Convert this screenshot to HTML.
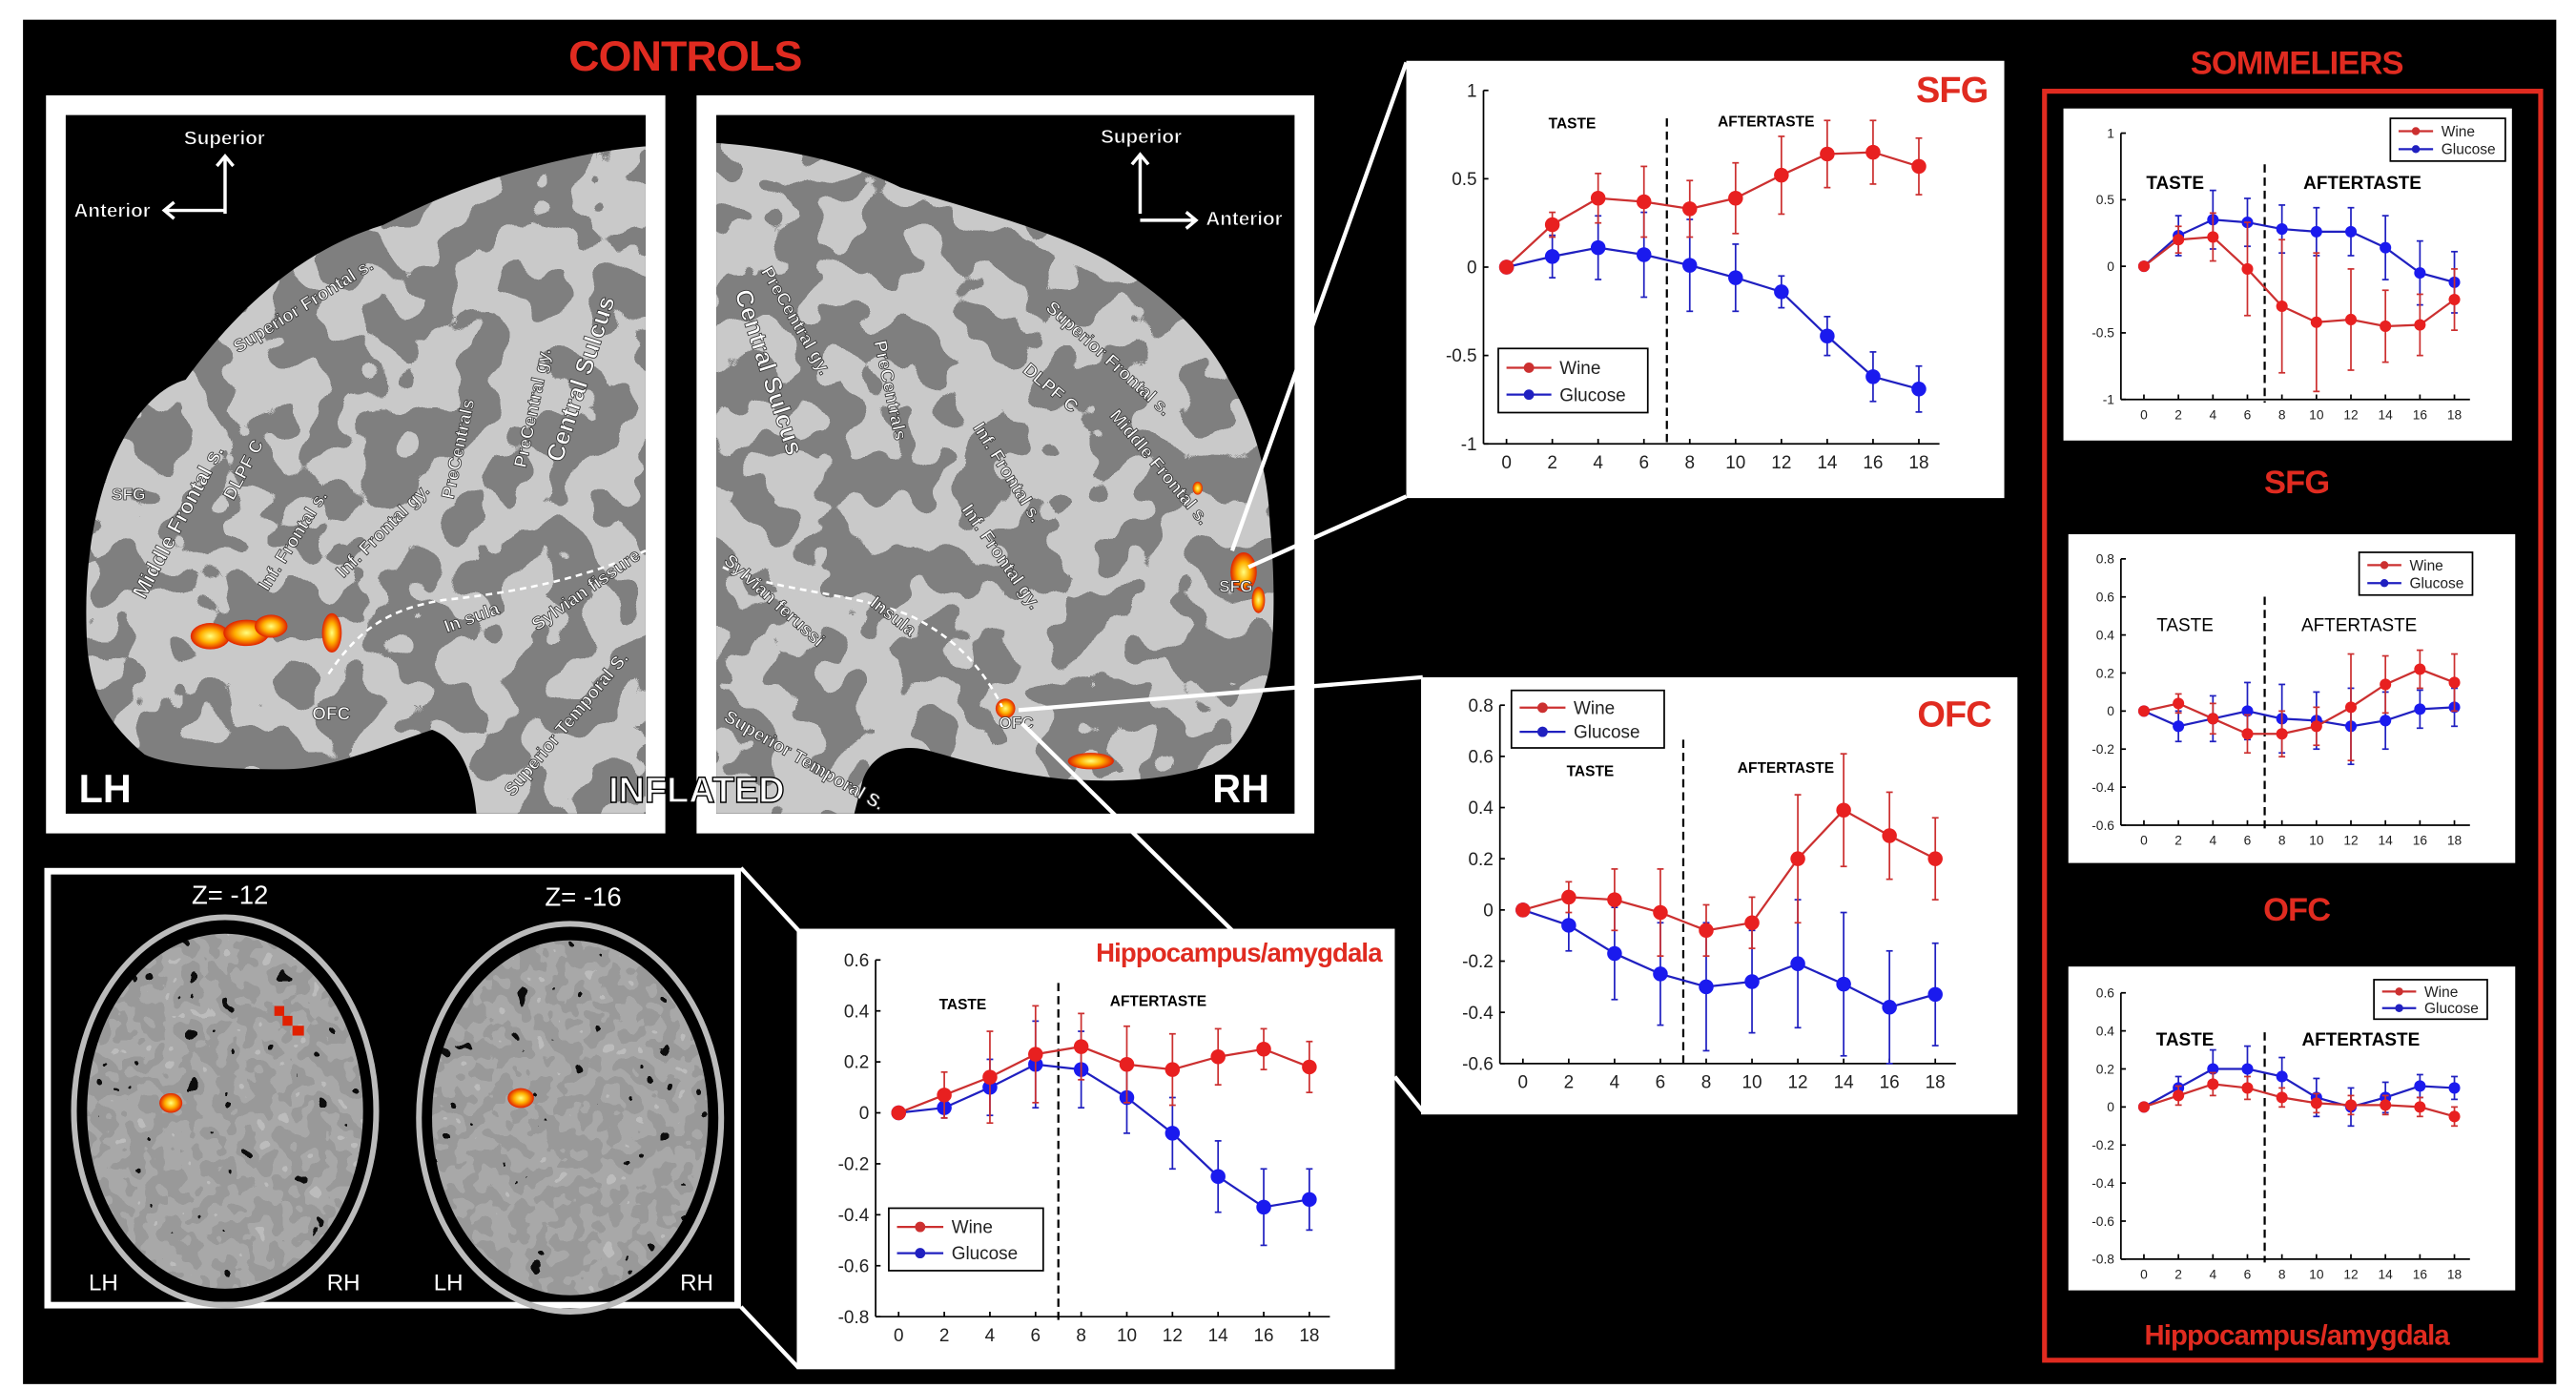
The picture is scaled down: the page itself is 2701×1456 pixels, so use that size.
<!DOCTYPE html>
<html><head><meta charset="utf-8">
<style>
html,body{margin:0;padding:0;background:#fff;}
svg{display:block;}
text{font-family:"Liberation Sans",Arial,sans-serif;}
</style></head>
<body>
<svg id="s" xmlns="http://www.w3.org/2000/svg" width="2701" height="1456" viewBox="0 0 1568 845" preserveAspectRatio="none">
<defs>
 <filter id="tex" x="0" y="0" width="100%" height="100%" color-interpolation-filters="sRGB">
  <feTurbulence type="fractalNoise" baseFrequency="0.036" numOctaves="2" seed="7"/>
  <feColorMatrix type="matrix" values="1 0 0 0 0 1 0 0 0 0 1 0 0 0 0 0 0 0 0 1"/>
  <feComponentTransfer><feFuncR type="discrete" tableValues="0.5 0.79"/><feFuncG type="discrete" tableValues="0.5 0.79"/><feFuncB type="discrete" tableValues="0.5 0.79"/></feComponentTransfer>
 </filter>
 <filter id="tex2" x="0" y="0" width="100%" height="100%" color-interpolation-filters="sRGB">
  <feTurbulence type="fractalNoise" baseFrequency="0.09" numOctaves="2" seed="3"/>
  <feColorMatrix type="matrix" values="1 0 0 0 0 1 0 0 0 0 1 0 0 0 0 0 0 0 0 1"/>
  <feComponentTransfer><feFuncR type="discrete" tableValues="0.05 0.6 0.66 0.74"/><feFuncG type="discrete" tableValues="0.05 0.6 0.66 0.74"/><feFuncB type="discrete" tableValues="0.05 0.6 0.66 0.74"/></feComponentTransfer>
 </filter>
 <radialGradient id="hot"><stop offset="0" stop-color="#ffff80"/><stop offset="0.5" stop-color="#ffb000"/><stop offset="1" stop-color="#e02000"/></radialGradient>
 <clipPath id="cl"><path d="M53,392 C48,300 80,240 113,231 C150,180 190,150 233,137 C270,118 300,108 323,102 C350,95 370,91 393,89 L393,495 L290,495 C288,470 280,450 263,444 C230,455 200,468 173,468 C130,468 100,465 88,459 C65,440 55,420 53,392 Z"/></clipPath>
 <clipPath id="cr"><path d="M436,87 C480,90 520,100 548,114 C600,130 640,140 673,158 C710,180 735,205 748,231 C765,260 772,290 773,319 C776,350 776,380 773,406 C765,440 752,458 738,465 C710,475 680,476 648,474 C610,470 585,462 563,456 C545,452 530,460 525,475 L520,495 L436,495 Z"/></clipPath>
 <clipPath id="m1"><ellipse cx="137" cy="676" rx="84" ry="108"/></clipPath>
 <clipPath id="m2"><ellipse cx="347" cy="680" rx="84" ry="108"/></clipPath>
</defs>
<rect x="0" y="0" width="1568" height="845" fill="#fff"/>
<rect x="14" y="12" width="1542" height="830" fill="#000"/>

<text x="417" y="43" text-anchor="middle" font-size="26" font-weight="bold" fill="#e02b20" letter-spacing="-0.5">CONTROLS</text>
<text x="1398" y="45" text-anchor="middle" font-size="20" font-weight="bold" fill="#e02b20" letter-spacing="-0.5">SOMMELIERS</text>

<rect x="28" y="58" width="377" height="449" fill="#fff"/>
<rect x="40" y="70" width="353" height="425" fill="#000"/>
<rect x="424" y="58" width="376" height="449" fill="#fff"/>
<rect x="436" y="70" width="352" height="425" fill="#000"/>
<g clip-path="url(#cl)"><rect x="40" y="70" width="353" height="425" filter="url(#tex)"/></g>
<g clip-path="url(#cr)"><rect x="436" y="70" width="352" height="425" filter="url(#tex)"/></g>
<ellipse cx="128" cy="387" rx="12" ry="8" fill="url(#hot)"/>
<ellipse cx="150" cy="385" rx="14" ry="8" fill="url(#hot)"/>
<ellipse cx="165" cy="381" rx="10" ry="7" fill="url(#hot)"/>
<ellipse cx="202" cy="385" rx="6" ry="12" fill="url(#hot)"/>
<ellipse cx="757" cy="348" rx="8" ry="12" fill="url(#hot)"/>
<ellipse cx="766" cy="365" rx="4" ry="8" fill="url(#hot)"/>
<ellipse cx="612" cy="431" rx="6" ry="6" fill="url(#hot)"/>
<ellipse cx="664" cy="463" rx="14" ry="5" fill="url(#hot)"/>
<ellipse cx="729" cy="297" rx="3" ry="4" fill="url(#hot)"/>
<path d="M200,410 C220,380 240,370 270,365 C320,360 360,350 393,335" fill="none" stroke="#fff" stroke-width="1.5" stroke-dasharray="4,3"/>
<path d="M440,345 C470,360 520,360 555,375 C585,390 600,410 610,430" fill="none" stroke="#fff" stroke-width="1.5" stroke-dasharray="4,3"/>
<g fill="#fff" font-weight="bold" font-size="12" stroke="#000" stroke-width="0.4">
<text x="112" y="88" font-size="12">Superior</text>
<text x="45" y="132" font-size="12">Anterior</text>
<text x="670" y="87" font-size="12">Superior</text>
<text x="734" y="137" font-size="12">Anterior</text>
</g>
<path d="M137,130 L137,95 M132,101 L137,95 L142,101 M137,128 L100,128 M106,123 L100,128 L106,133" stroke="#fff" stroke-width="2" fill="none"/>
<path d="M694,130 L694,94 M689,100 L694,94 L699,100 M694,134 L728,134 M722,129 L728,134 L722,139" stroke="#fff" stroke-width="2" fill="none"/>
<g fill="#fff" font-weight="bold" font-size="11" stroke="#333" stroke-width="0.5">
<text transform="translate(145,215) rotate(-32)">Superior Frontal s.</text>
<text transform="translate(88,365) rotate(-62)" font-size="13">Middle Frontal s.</text>
<text transform="translate(142,305) rotate(-62)">DLPF C</text>
<text transform="translate(163,360) rotate(-58)">Inf. Frontal s.</text>
<text transform="translate(209,352) rotate(-45)">Inf. Frontal gy.</text>
<text transform="translate(276,304) rotate(-78)">PreCentrals</text>
<text transform="translate(320,285) rotate(-78)">PreCentral gy.</text>
<text transform="translate(342,282) rotate(-72)" font-size="15">Central Sulcus</text>
<text x="68" y="304" font-size="10">SFG</text>
<text transform="translate(272,385) rotate(-20)">In sula</text>
<text transform="translate(327,384) rotate(-35)">Sylvian fissure</text>
<text x="190" y="438">OFC</text>
<text transform="translate(312,485) rotate(-50)">Superior Temporal S.</text>
<text transform="translate(447,178) rotate(72)" font-size="15">Central Sulcus</text>
<text transform="translate(463,165) rotate(60)">PreCentral gy.</text>
<text transform="translate(532,208) rotate(78)">PreCentrals</text>
<text transform="translate(636,188) rotate(42)">Superior Frontal s.</text>
<text transform="translate(622,226) rotate(40)">DLPF C</text>
<text transform="translate(675,253) rotate(50)">Middle Frontal s.</text>
<text transform="translate(592,260) rotate(58)">Inf. Frontal s.</text>
<text transform="translate(585,310) rotate(55)">Inf. Frontal gy.</text>
<text transform="translate(440,342) rotate(42)">Sylvian ferussi</text>
<text transform="translate(529,368) rotate(38)">Insula</text>
<text transform="translate(440,438) rotate(30)">Superior Temporal S.</text>
<text x="742" y="360" font-size="10">SFG</text>
<text x="608" y="443" font-size="10">OFC</text>
</g>
<text x="48" y="488" fill="#fff" font-size="24" font-weight="bold">LH</text>
<text x="738" y="488" fill="#fff" font-size="24" font-weight="bold">RH</text>
<text x="424" y="488" text-anchor="middle" fill="#fff" font-size="22" font-weight="bold" stroke="#000" stroke-width="0.8">INFLATED</text>

<rect x="27" y="528" width="424" height="268" fill="#fff"/>
<rect x="31" y="532" width="416" height="260" fill="#000"/>
<ellipse cx="137" cy="676" rx="92" ry="118" fill="none" stroke="#bbb" stroke-width="3.5"/>
<ellipse cx="347" cy="680" rx="92" ry="118" fill="none" stroke="#bbb" stroke-width="3.5"/>
<g clip-path="url(#m1)"><rect x="50" y="565" width="175" height="225" filter="url(#tex2)"/></g>
<g clip-path="url(#m2)"><rect x="260" y="570" width="175" height="225" filter="url(#tex2)"/></g>
<rect x="167" y="612" width="6" height="6" fill="#e02000"/><rect x="172" y="618" width="6" height="6" fill="#e02000"/><rect x="178" y="624" width="7" height="6" fill="#e02000"/>
<ellipse cx="104" cy="671" rx="7" ry="6" fill="url(#hot)"/>
<ellipse cx="317" cy="668" rx="8" ry="6" fill="url(#hot)"/>
<g fill="#fff" font-size="14"><text x="140" y="550" text-anchor="middle" font-size="16">Z= -12</text><text x="355" y="551" text-anchor="middle" font-size="16">Z= -16</text>
<text x="54" y="785">LH</text><text x="199" y="785">RH</text><text x="264" y="785">LH</text><text x="414" y="785">RH</text></g>

<g stroke="#fff" stroke-width="2.5" fill="none">
<line x1="750" y1="335" x2="856" y2="38"/>
<line x1="760" y1="345" x2="856" y2="302"/>
<line x1="620" y1="432" x2="866" y2="412"/>
<line x1="622" y1="440" x2="750" y2="566"/>
<line x1="451" y1="528" x2="486" y2="566"/>
<line x1="451" y1="795" x2="486" y2="832"/>
<line x1="849" y1="655" x2="866" y2="676"/>
</g>

<rect x="1244.5" y="55.5" width="302" height="772" fill="none" stroke="#e02b20" stroke-width="3"/>
<g font-size="20" font-weight="bold" fill="#e02b20" text-anchor="middle" letter-spacing="-0.5">
<text x="1398" y="300">SFG</text><text x="1398" y="560">OFC</text><text x="1398" y="818" font-size="17">Hippocampus/amygdala</text></g>
<g id="charts"></g>
</svg>
<script>
var NS="http://www.w3.org/2000/svg",G=document.getElementById('charts');
function el(t,a,txt){var e=document.createElementNS(NS,t);for(var k in a)e.setAttribute(k,a[k]);if(txt!==undefined)e.textContent=txt;G.appendChild(e);return e;}
function chart(o){
 el('rect',{x:o.b[0],y:o.b[1],width:o.b[2]-o.b[0],height:o.b[3]-o.b[1],fill:'#fff'});
 var X=function(t){return o.x0+(o.x18-o.x0)*t/18;};
 var Y=function(v){return o.py1+(o.py2-o.py1)*(o.v1-v)/(o.v1-o.v2);};
 var yb=Y(o.v2);
 el('line',{x1:o.ax,y1:Y(o.v1),x2:o.ax,y2:yb,stroke:'#000','stroke-width':1});
 el('line',{x1:o.ax,y1:yb,x2:o.x18+(o.x18-o.x0)/20,y2:yb,stroke:'#000','stroke-width':1});
 o.ticks.forEach(function(v){el('line',{x1:o.ax,y1:Y(v),x2:o.ax+3,y2:Y(v),stroke:'#000'});
  el('text',{x:o.ax-4,y:Y(v)+o.fs*0.35,'text-anchor':'end','font-size':o.fs,fill:'#222'},o.tl(v));});
 for(var t=0;t<=18;t+=2){el('line',{x1:X(t),y1:yb,x2:X(t),y2:yb-3,stroke:'#000'});
  el('text',{x:X(t),y:yb+o.fs+4,'text-anchor':'middle','font-size':o.fs,fill:'#222'},t);}
 el('line',{x1:X(7),y1:o.dy,x2:X(7),y2:yb+2,stroke:'#000','stroke-width':1.3,'stroke-dasharray':'5,3'});
 el('text',{x:o.ta[0],y:o.ta[1],'text-anchor':'middle','font-size':o.tfs,'font-weight':o.tw||'bold'},'TASTE');
 el('text',{x:o.at[0],y:o.at[1],'text-anchor':'middle','font-size':o.tfs,'font-weight':o.tw||'bold'},'AFTERTASTE');
 if(o.title)el('text',{x:o.title[0],y:o.title[1],'text-anchor':'end','font-size':o.title[3],'font-weight':'bold',fill:'#e02b20','letter-spacing':'-0.5'},o.title[2]);
 [[o.g,o.ge,'#2020c0','#1a1aee'],[o.w,o.we,'#cc3030','#e82020']].forEach(function(s){
  var d='';s[0].forEach(function(v,i){d+=(i?'L':'M')+X(2*i)+','+Y(v);});
  s[0].forEach(function(v,i){if(s[1][i]){var x=X(2*i);el('line',{x1:x,y1:Y(v-s[1][i]),x2:x,y2:Y(v+s[1][i]),stroke:s[2],'stroke-width':1});
   el('line',{x1:x-2,y1:Y(v-s[1][i]),x2:x+2,y2:Y(v-s[1][i]),stroke:s[2]});el('line',{x1:x-2,y1:Y(v+s[1][i]),x2:x+2,y2:Y(v+s[1][i]),stroke:s[2]});}});
  el('path',{d:d,fill:'none',stroke:s[2],'stroke-width':1.3});
  s[0].forEach(function(v,i){el('circle',{cx:X(2*i),cy:Y(v),r:o.r,fill:s[3]});});
 });
 var L=o.leg;el('rect',{x:L[0],y:L[1],width:L[2]-L[0],height:L[3]-L[1],fill:'#fff',stroke:'#000','stroke-width':1});
 var h=(L[3]-L[1]),lx=L[0]+5,lw=(L[2]-L[0])*0.3;
 [['Wine','#cc3030',0.3],['Glucose','#2020c0',0.72]].forEach(function(q){var yy=L[1]+h*q[2];
  el('line',{x1:lx,y1:yy,x2:lx+lw,y2:yy,stroke:q[1],'stroke-width':1.3});el('circle',{cx:lx+lw/2,cy:yy,r:o.r*0.7,fill:q[1]});
  el('text',{x:lx+lw+5,y:yy+o.lfs*0.35,'font-size':o.lfs,fill:'#222'},q[0]);});
}
function fm(v){return v===0?'0':String(v);}
chart({b:[856,37,1220,303],ax:903,x0:917,x18:1168,v1:1,v2:-1,py1:55,py2:270,ticks:[1,0.5,0,-0.5,-1],fs:11,tfs:9,r:4.5,dy:72,
 ta:[957,78],at:[1075,77],title:[1210,62,'SFG',22],leg:[912,212,1003,251],lfs:11,
 w:[0,.24,.39,.37,.33,.39,.52,.64,.65,.57],we:[0,.07,.14,.2,.16,.2,.22,.19,.18,.16],
 g:[0,.06,.11,.07,.01,-.06,-.14,-.39,-.62,-.69],ge:[0,.12,.18,.24,.26,.19,.09,.11,.14,.13],tl:fm});
chart({b:[865,412,1228,678],ax:913,x0:927,x18:1178,v1:0.8,v2:-0.6,py1:429,py2:647,ticks:[0.8,0.6,0.4,0.2,0,-0.2,-0.4,-0.6],fs:11,tfs:9,r:4.5,dy:450,
 ta:[968,472],at:[1087,470],title:[1212,442,'OFC',22],leg:[920,420,1013,455],lfs:11,
 w:[0,.05,.04,-.01,-.08,-.05,.2,.39,.29,.2],we:[0,.06,.12,.17,.1,.1,.25,.22,.17,.16],
 g:[0,-.06,-.17,-.25,-.3,-.28,-.21,-.29,-.38,-.33],ge:[0,.1,.18,.2,.25,.2,.25,.28,.22,.2],tl:fm});
chart({b:[485,565,849,833],ax:533,x0:547,x18:797,v1:0.6,v2:-0.8,py1:584,py2:801,ticks:[0.6,0.4,0.2,0,-0.2,-0.4,-0.6,-0.8],fs:11,tfs:9,r:4.5,dy:598,
 ta:[586,614],at:[705,612],title:[841,585,'Hippocampus/amygdala',16],leg:[541,735,635,773],lfs:11,
 w:[0,.07,.14,.23,.26,.19,.17,.22,.25,.18],we:[0,.09,.18,.19,.13,.15,.14,.11,.08,.1],
 g:[0,.02,.1,.19,.17,.06,-.08,-.25,-.37,-.34],ge:[0,.04,.11,.17,.15,.14,.14,.14,.15,.12],tl:fm});
chart({b:[1256,66,1529,268],ax:1291,x0:1305,x18:1494,v1:1,v2:-1,py1:81,py2:243,ticks:[1,0.5,0,-0.5,-1],fs:8,tfs:11,r:3.5,dy:100,
 ta:[1324,115],at:[1438,115],leg:[1455,72,1525,98],lfs:9,
 w:[0,.2,.22,-.02,-.3,-.42,-.4,-.45,-.44,-.25],we:[0,.1,.18,.35,.5,.52,.38,.27,.23,.23],
 g:[0,.23,.35,.33,.28,.26,.26,.14,-.05,-.12],ge:[0,.15,.22,.18,.18,.18,.18,.24,.24,.23],tl:fm});
chart({b:[1259,325,1531,525],ax:1291,x0:1305,x18:1494,v1:0.8,v2:-0.6,py1:340,py2:502,ticks:[0.8,0.6,0.4,0.2,0,-0.2,-0.4,-0.6],fs:8,tfs:11,tw:'normal',r:3.5,dy:363,
 ta:[1330,384],at:[1436,384],leg:[1436,336,1505,362],lfs:9,
 w:[0,.04,-.04,-.12,-.12,-.08,.02,.14,.22,.15],we:[0,.05,.08,.1,.12,.1,.28,.15,.1,.15],
 g:[0,-.08,-.04,0,-.04,-.05,-.08,-.05,.01,.02],ge:[0,.08,.12,.15,.18,.15,.2,.15,.1,.1],tl:fm});
chart({b:[1259,588,1531,785],ax:1291,x0:1305,x18:1494,v1:0.6,v2:-0.8,py1:604,py2:766,ticks:[0.6,0.4,0.2,0,-0.2,-0.4,-0.6,-0.8],fs:8,tfs:11,r:3.5,dy:628,
 ta:[1330,636],at:[1437,636],leg:[1445,596,1514,620],lfs:9,
 w:[0,.06,.12,.1,.05,.02,.01,.01,0,-.05],we:[0,.05,.06,.06,.05,.05,.05,.05,.05,.05],
 g:[0,.1,.2,.2,.16,.05,0,.05,.11,.1],ge:[0,.06,.1,.12,.1,.1,.1,.08,.06,.06],tl:fm});
</script>
</body></html>
